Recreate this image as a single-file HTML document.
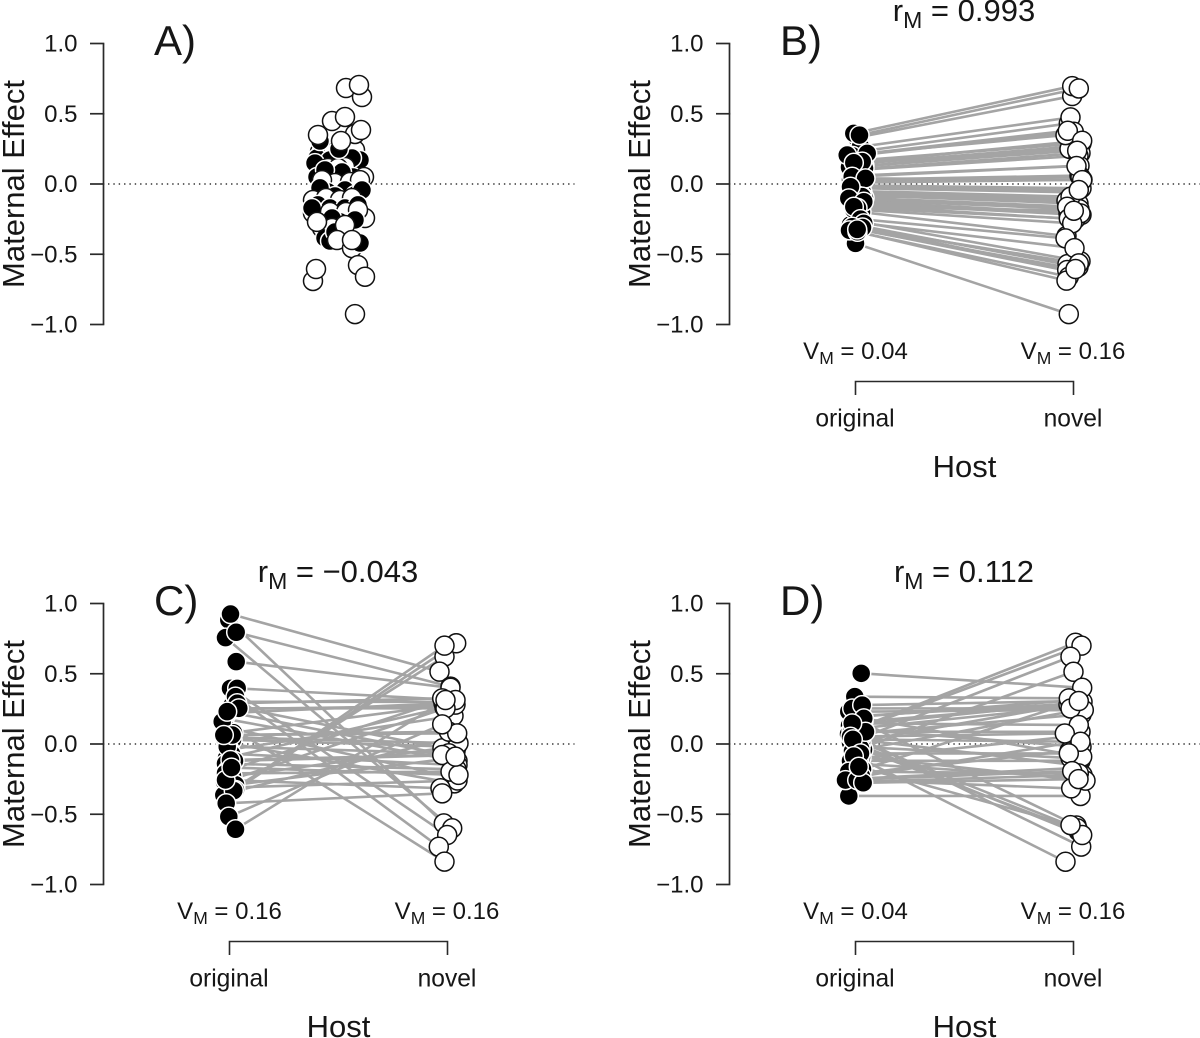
<!DOCTYPE html>
<html lang="en">
<head>
<meta charset="utf-8">
<title>Maternal Effect by Host</title>
<style>
html,body{margin:0;padding:0;background:#fff;}
svg{display:block;font-family:"Liberation Sans",sans-serif;fill:#161616;}
.tick{font-size:24px;}
.title{font-size:31px;}
.sub{font-size:24px;}
.host{font-size:24.6px;}
.tag{font-size:42px;}
</style>
</head>
<body>
<svg id="chart" width="1200" height="1038" viewBox="0 0 1200 1038" xmlns="http://www.w3.org/2000/svg">
  <g id="panel-a">
    <text class="tag" x="154" y="55">A)</text>
  </g>
  <g id="panel-b">
    <text class="tag" x="780" y="55">B)</text>
    <text class="title" x="964" y="21" text-anchor="middle">r<tspan font-size="23" dy="7">M</tspan><tspan dy="-7"> = 0.993</tspan></text>
    <text class="sub" x="855.5" y="359" text-anchor="middle">V<tspan font-size="17.5" dy="5">M</tspan><tspan dy="-5"> = 0.04</tspan></text>
    <text class="sub" x="1073" y="359" text-anchor="middle">V<tspan font-size="17.5" dy="5">M</tspan><tspan dy="-5"> = 0.16</tspan></text>
    <text class="host" x="855" y="426.5" text-anchor="middle">original</text>
    <text class="host" x="1073" y="426.5" text-anchor="middle">novel</text>
    <text class="title" x="964.5" y="477" text-anchor="middle">Host</text>
  </g>
  <g id="panel-c">
    <text class="tag" x="154" y="615">C)</text>
    <text class="title" x="338" y="582" text-anchor="middle">r<tspan font-size="23" dy="7">M</tspan><tspan dy="-7"> = −0.043</tspan></text>
    <text class="sub" x="229.5" y="919" text-anchor="middle">V<tspan font-size="17.5" dy="5">M</tspan><tspan dy="-5"> = 0.16</tspan></text>
    <text class="sub" x="447" y="919" text-anchor="middle">V<tspan font-size="17.5" dy="5">M</tspan><tspan dy="-5"> = 0.16</tspan></text>
    <text class="host" x="229" y="986.5" text-anchor="middle">original</text>
    <text class="host" x="447" y="986.5" text-anchor="middle">novel</text>
    <text class="title" x="338.5" y="1037" text-anchor="middle">Host</text>
  </g>
  <g id="panel-d">
    <text class="tag" x="780" y="615">D)</text>
    <text class="title" x="964" y="582" text-anchor="middle">r<tspan font-size="23" dy="7">M</tspan><tspan dy="-7"> = 0.112</tspan></text>
    <text class="sub" x="855.5" y="919" text-anchor="middle">V<tspan font-size="17.5" dy="5">M</tspan><tspan dy="-5"> = 0.04</tspan></text>
    <text class="sub" x="1073" y="919" text-anchor="middle">V<tspan font-size="17.5" dy="5">M</tspan><tspan dy="-5"> = 0.16</tspan></text>
    <text class="host" x="855" y="986.5" text-anchor="middle">original</text>
    <text class="host" x="1073" y="986.5" text-anchor="middle">novel</text>
    <text class="title" x="964.5" y="1037" text-anchor="middle">Host</text>
  </g>
</svg>
<script>
// Shared axis data
const yTickValues = [-1, -0.5, 0, 0.5, 1];
const yTickLabels = ['−1.0', '−0.5', '0.0', '0.5', '1.0'];
const yAxisTitle = 'Maternal Effect';

// Panel A: maternal effects pooled; 1 = novel host (white), 0 = original host (black)
const aKinds = [1,1,
  1,1,1,1, 0,0,0,0,0,0,
  1,1,1, 0,0,0,0,0, 1,
  1,1,1,1, 0,0,0,0,0,0,
  1,1,1,1, 0,0,0,0,0,
  1,1,1, 0,0,0,0,
  1,1, 0,0,0, 1,1,1,
  1,0,1,1,1,1,1,1,
  1,1,1,1,0,1,0,1,1,1,1];
const aValues = [-.242,-.206,
  .228,.221,.228,.242, .185,.171,.171,.171,.149,.185,
  .114,.121,.114, .05,.043,.05,.085,.10, .05,
  .007,.014,.028,.028, -.057,-.043,-.078,-.028,-.085,-.043,
  -.114,-.10,-.114,-.10, -.149,-.171,-.171,-.149,-.171,
  -.199,-.199,-.185, -.27,-.27,-.256,-.242,
  -.313,-.313, -.384,-.406,-.342, -.27,-.292,-.399,
  -.456,-.42,-.399,-.577,-.66,-.69,-.605,-.926,
  .448,.477,.356,.384,.306,.349,.249,.306,.683,.619,.705];
const aJitter = [.27,-.25,
  -.18,-.05,.07,.17, -.21,-.08,.07,.22,-.23,.14,
  -.10,.07,0, -.21,-.03,.15,.04,-.13, .26,
  -.03,.12,-.16,.22, -.10,.07,.17,-.18,-.03,.24,
  -.25,-.12,.02,.14, -.20,-.08,.07,.20,-.26,
  -.08,.08,.20, -.13,.02,.17,-.06,
  -.16,-.06, -.13,-.08,-.03, -.21,.07,-.01,
  .14,.22,.14,.20,.27,-.25,-.22,.17,
  -.06,.07,.17,.23,-.18,-.20,.01,.03,.08,.24,.21];

// Panel B: paired original / novel effects
const bOriginalValues = [.17,.16,.14,.13,.12,.11,.10,.06,.03,.02,.01,-.01,-.03,-.05,-.06,-.07,-.08,-.10,-.11,-.13,-.14,-.15,-.20,-.27,-.29,-.30,-.31,
  .33,.36,.23,.265,.20,.206,.218,.348,.159,.151,.052,.04,-.09,-.02,-.102,-.126,-.17,-.18,-.162,-.25,-.423,-.28,-.304,-.31,-.33,-.34,-.323];
const bOriginalJitter = [.06,.08,-.05,.09,-.06,.09,.02,.03,-.05,.08,.07,-.02,.04,.02,.07,-.04,.06,.09,-.06,.05,.02,-.03,.06,.05,-.05,.07,-.04,
  .01,-.017,.03,.05,-.03,-.083,.117,.04,.067,-.017,-.033,.10,.067,-.05,-.067,.083,.02,-.02,-.017,.05,0,.083,-.033,.07,-.06,.02,.017];
const bNovelValues = [.29,.30,.27,.25,.24,.22,.20,.13,.06,.05,.03,-.03,-.06,-.09,-.11,-.12,-.14,-.16,-.18,-.21,-.22,-.25,-.37,-.55,-.57,-.59,-.62,
  .626,.697,.431,.474,.372,.348,.379,.68,.308,.237,.128,.028,-.091,-.043,-.162,-.209,-.245,-.28,-.19,-.387,-.926,-.456,-.565,-.612,-.66,-.688,-.605];
const bNovelJitter = [.08,.05,.04,-.04,.06,.07,.05,.06,.06,.07,.09,.08,.04,-.02,.03,-.07,.05,-.05,.06,-.05,.08,.02,-.07,.07,-.06,.05,-.04,
  -.013,-.013,-.047,-.03,.003,-.08,-.057,.053,.087,.037,.03,.087,-.03,.053,-.063,.07,-.047,-.013,.003,-.08,-.047,.01,.053,-.063,-.047,-.07,.02];

// Panel C: paired original / novel effects
const cOriginalValues = [.30,.27,.25,.22,.18,.12,.08,.03,.01,-.04,-.07,-.10,-.12,-.14,-.19,-.23,-.27,-.29,-.31,-.34,
  -.327,-.363,-.332,.883,.925,.757,.795,.586,.396,.396,.337,.29,.254,.159,.048,-.019,-.114,-.209,-.256,-.168,.23,.064,.064,-.422,-.517,-.607];
const cOriginalJitter = [.05,.02,.08,-.02,-.05,-.04,.04,.03,-.04,0,.02,-.03,.05,-.04,-.02,.03,-.05,.06,0,.03,
  .06,-.057,.043,-.007,.01,-.04,.067,.067,.01,.077,.06,.077,.093,-.073,-.057,-.023,.01,-.04,-.04,.02,-.023,.027,-.057,-.033,-.007,.06];
const cNovelValues = [.30,-.05,.27,.29,-.12,-.24,.28,-.02,-.28,.20,-.15,.26,-.08,-.18,.33,-.03,.28,-.10,-.26,.05,
  .717,.622,.70,-.565,.515,-.60,.408,.40,-.648,.313,-.731,.325,.254,-.837,.005,-.066,-.078,-.197,-.315,-.22,-.09,.088,.076,-.351,.14,.313];
const cNovelJitter = [.06,.08,.03,-.04,.10,.08,.02,.09,.07,.06,.10,-.03,.05,.09,.04,-.05,.08,.06,.10,.09,
  .087,-.03,-.03,-.037,-.08,.047,.03,.03,-.003,.08,-.087,-.053,-.02,-.03,.11,.013,-.053,.03,-.07,.11,.08,.013,.097,-.053,-.053,-.02];

// Panel D: paired original / novel effects
const dOriginalValues = [.20,.19,.17,.16,.13,.11,.10,.07,.03,.01,-.02,-.04,-.05,-.10,-.12,-.14,-.18,-.21,-.23,-.25,-.27,
  .01,.06,0,-.10,.12,.09,.04,-.03,.503,.337,.23,.253,.277,.182,.087,.147,.052,.033,-.37,-.067,-.086,-.197,-.257,-.257,-.276,-.162];
const dOriginalJitter = [.05,-.04,.02,.08,-.06,.02,.07,-.07,.04,-.05,.02,.08,-.03,.06,-.05,.02,.07,0,.06,-.08,.03,
  .06,-.02,.02,.04,.05,-.04,.05,.05,.057,-.007,-.067,-.033,.067,.083,.10,-.033,-.05,-.027,-.067,.05,-.017,-.067,-.10,.017,.077,.033];
const dNovelValues = [.29,.31,-.58,.28,.30,.27,-.02,.21,-.15,.28,-.10,-.62,.24,.06,-.12,-.24,.29,-.05,.02,-.17,-.22,
  -.60,-.73,-.648,-.838,.721,.70,.621,.514,.40,.325,.242,.253,.306,-.09,.087,.135,.075,.016,-.37,-.067,-.261,-.209,-.193,-.316,-.25,-.577];
const dNovelJitter = [.06,-.02,.03,-.02,.09,.04,.08,.08,.02,-.05,-.03,.05,.04,.06,.07,.04,-.03,-.04,.06,.05,.09,
  .037,.077,.087,-.08,.02,.08,-.03,0,.087,-.047,.103,-.03,.053,.087,.07,.053,-.087,.07,.07,-.047,.12,.053,-.013,-.023,.05,-.03];

const SVG_NS = 'http://www.w3.org/2000/svg';
const POINT_RADIUS = 9.5;

function yScale(value, zeroY) {
  return zeroY - value * 140.5;
}
function xScale(originX, host, jitter) {
  return originX + host * 218 + jitter * 100;
}
function make(tag, attrs, parent) {
  const el = document.createElementNS(SVG_NS, tag);
  for (const k in attrs) el.setAttribute(k, attrs[k]);
  parent.appendChild(el);
  return el;
}

function drawAxis(group, axisX, zeroY) {
  const yTop = yScale(1, zeroY);
  const yBottom = yScale(-1, zeroY);
  const spine = make('line', {x1: axisX, x2: axisX, y1: yTop, y2: yBottom, stroke: '#2a2a2a', 'stroke-width': 1.7}, group);
  
  
  yTickValues.forEach(function (v, i) {
    const y = yScale(v, zeroY);
    const tick = make('line', {x1: axisX - 13.5, x2: axisX + 0.8, y1: y, y2: y, stroke: '#2a2a2a', 'stroke-width': 1.7}, group);
    
    
    const label = make('text', {x: axisX - 26, y: y + 8, 'text-anchor': 'end', class: 'tick'}, group);
    
    
    label.textContent = yTickLabels[i];
  });
  const titleX = axisX - 79.5;
  const titleY = zeroY;
  const title = make('text', {x: titleX, y: titleY, 'text-anchor': 'middle', class: 'title', transform: 'rotate(-90 ' + titleX + ' ' + titleY + ')'}, group);
  
  
  title.textContent = yAxisTitle;
  const zero = make('line', {x1: axisX + 4.5, x2: axisX + 471, y1: yScale(0, zeroY), y2: yScale(0, zeroY), stroke: '#333', 'stroke-width': 1.4, 'stroke-dasharray': '1.4 3.95'}, group);
  
  
}

function drawHostBracket(group, originX, zeroY) {
  const top = zeroY + 197.5;
  const left = xScale(originX, 0, 0);
  const right = xScale(originX, 1, 0);
  const bracket = make('polyline', {points: left + ',' + (top + 13.5) + ' ' + left + ',' + top + ' ' + right + ',' + top + ' ' + right + ',' + (top + 13.5), fill: 'none', stroke: '#2a2a2a', 'stroke-width': 1.6}, group);
  
  
}

function drawPoint(group, cx, cy, isNovel) {
  const point = make('circle', {cx: cx, cy: cy, r: POINT_RADIUS, fill: isNovel ? '#fff' : '#000', stroke: isNovel ? '#111' : '#fff', 'stroke-width': 1.5}, group);
  
  
}

function drawPairs(group, originX, zeroY, oVals, oJit, nVals, nJit) {
  oVals.forEach(function (v, i) {
    const line = make('line', {
      x1: xScale(originX, 0, oJit[i]), y1: yScale(v, zeroY),
      x2: xScale(originX, 1, nJit[i]), y2: yScale(nVals[i], zeroY),
      stroke: '#a4a4a4', 'stroke-width': 2.6}, group);
    
    
  });
  oVals.forEach(function (v, i) {
    drawPoint(group, xScale(originX, 0, oJit[i]), yScale(v, zeroY), false);
  });
  nVals.forEach(function (v, i) {
    drawPoint(group, xScale(originX, 1, nJit[i]), yScale(v, zeroY), true);
  });
}

const panelA = document.getElementById('panel-a');
const panelB = document.getElementById('panel-b');
const panelC = document.getElementById('panel-c');
const panelD = document.getElementById('panel-d');

drawAxis(panelA, 103.5, 184);
drawAxis(panelB, 729.5, 184);
drawAxis(panelC, 103.5, 744);
drawAxis(panelD, 729.5, 744);

drawHostBracket(panelB, 855.5, 184);
drawHostBracket(panelC, 229.5, 744);
drawHostBracket(panelD, 855.5, 744);

aValues.forEach(function (v, i) {
  drawPoint(panelA, xScale(338, 0, aJitter[i]), yScale(v, 184), aKinds[i] === 1);
});

drawPairs(panelB, 855.5, 184, bOriginalValues, bOriginalJitter, bNovelValues, bNovelJitter);
drawPairs(panelC, 229.5, 744, cOriginalValues, cOriginalJitter, cNovelValues, cNovelJitter);
drawPairs(panelD, 855.5, 744, dOriginalValues, dOriginalJitter, dNovelValues, dNovelJitter);
</script>
</body>
</html>
